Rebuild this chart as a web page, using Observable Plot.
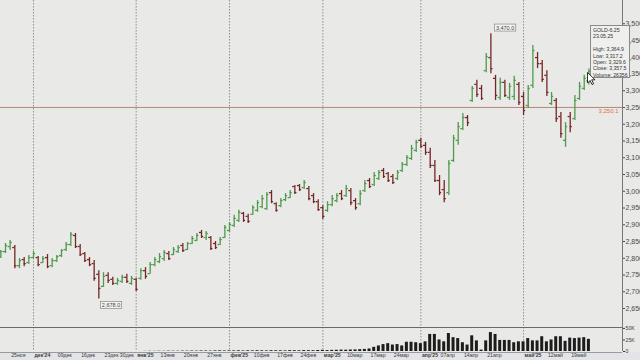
<!DOCTYPE html>
<html><head><meta charset="utf-8">
<script src="https://cdn.jsdelivr.net/npm/d3@7"></script>
<script src="https://cdn.jsdelivr.net/npm/@observablehq/plot@0.6"></script>
<style>
html,body{margin:0;padding:0;background:#e9e9e7;overflow:hidden;width:640px;height:360px;}
#wrap{position:relative;width:640px;height:360px;font-family:"Liberation Sans",Arial,sans-serif;overflow:hidden;}
#price,#vol{position:absolute;left:0;}
#price{top:0;}
#vol{top:327px;}
.sep{position:absolute;left:0;width:622px;height:1px;background:#6a6a6a;}
#strip{position:absolute;left:0;top:352px;width:640px;height:8px;background:#e2e4e8;}
#tip{position:absolute;left:590px;top:25px;width:40px;height:53px;background:#efefed;border:1px solid #8a8a8a;font-size:5.2px;line-height:6.4px;color:#333;padding:1px 2px;box-sizing:border-box;white-space:pre;overflow:hidden;}
#cursor{position:absolute;left:587px;top:72px;}
</style></head><body><div id="wrap">
<div id="strip"></div>
<div id="price"></div>
<div id="vol"></div>
<div class="sep" style="top:327px"></div>
<div class="sep" style="top:352px;background:#9a9a9a"></div>
<div id="tip"></div>
<svg id="cursor" width="10" height="14"><path d="M0.5,0.5 L0.5,11 L3,8.5 L5,12.5 L6.6,11.8 L4.7,7.8 L8,7.8 Z" fill="#fff" stroke="#000" stroke-width="0.8"/></svg>
</div>
<script>
const ticker = "GOLD-6.25";
const dates = [
"2024-11-21","2024-11-22","2024-11-25","2024-11-26","2024-11-27","2024-11-28","2024-11-29",
"2024-12-02","2024-12-03","2024-12-04","2024-12-05","2024-12-06",
"2024-12-09","2024-12-10","2024-12-11","2024-12-12","2024-12-13",
"2024-12-16","2024-12-17","2024-12-18","2024-12-19","2024-12-20",
"2024-12-23","2024-12-24","2024-12-25","2024-12-26","2024-12-27","2024-12-30","2024-12-31",
"2025-01-03","2025-01-06","2025-01-08","2025-01-09","2025-01-10",
"2025-01-13","2025-01-14","2025-01-15","2025-01-16","2025-01-17",
"2025-01-20","2025-01-21","2025-01-22","2025-01-23","2025-01-24",
"2025-01-27","2025-01-28","2025-01-29","2025-01-30","2025-01-31",
"2025-02-03","2025-02-04","2025-02-05","2025-02-06","2025-02-07",
"2025-02-10","2025-02-11","2025-02-12","2025-02-13","2025-02-14",
"2025-02-17","2025-02-18","2025-02-19","2025-02-20","2025-02-21",
"2025-02-24","2025-02-25","2025-02-26","2025-02-27","2025-02-28",
"2025-03-03","2025-03-04","2025-03-05","2025-03-06","2025-03-07",
"2025-03-10","2025-03-11","2025-03-12","2025-03-13","2025-03-14",
"2025-03-17","2025-03-18","2025-03-19","2025-03-20","2025-03-21",
"2025-03-24","2025-03-25","2025-03-26","2025-03-27","2025-03-28","2025-03-31",
"2025-04-01","2025-04-02","2025-04-03","2025-04-04",
"2025-04-07","2025-04-08","2025-04-09","2025-04-10","2025-04-11",
"2025-04-14","2025-04-15","2025-04-16","2025-04-17","2025-04-18",
"2025-04-21","2025-04-22","2025-04-23","2025-04-24","2025-04-25",
"2025-04-28","2025-04-29","2025-04-30",
"2025-05-02","2025-05-05","2025-05-06","2025-05-07","2025-05-08",
"2025-05-12","2025-05-13","2025-05-14","2025-05-15","2025-05-16",
"2025-05-19","2025-05-20","2025-05-21","2025-05-22","2025-05-23"];

const open = [2805,2820,2835,2832,2778,2796,2787,2802,2802,2787,
2802,2778,2793,2808,2826,2841,2868,2835,2814,2796,
2784,2752,2716,2749,2737,2725,2731,2743,2725,2737,
2740,2763,2754,2781,2790,2799,2814,2811,2820,2838,
2826,2844,2853,2877,2862,2862,2844,2841,2862,2883,
2898,2913,2934,2925,2931,2943,2954,2948,2996,2963,
2957,2975,2981,3014,3017,3011,3008,2987,2969,2951,
2943,2960,2972,2993,2987,3002,2972,2963,3002,3032,
3020,3038,3062,3053,3044,3038,3062,3080,3098,3122,
3152,3137,3116,3077,3032,3005,2996,3092,3152,3187,
3220,3271,3319,3307,3360,3399,3337,3280,3325,3280,
3283,3319,3283,3256,3316,3399,3381,3346,3262,3271,
3223,3152,3223,3217,3277,3307,3329.6];

const high = [2823,2844,2853,2838,2799,2802,2808,2820,2805,2805,
2811,2799,2808,2826,2847,2877,2874,2841,2817,2802,
2793,2763,2757,2757,2743,2740,2749,2752,2746,2740,
2769,2772,2787,2802,2814,2823,2820,2832,2838,2844,
2847,2865,2874,2883,2880,2865,2850,2862,2898,2907,
2928,2943,2937,2931,2957,2972,2987,2996,3002,2966,
2978,2993,3002,3017,3020,3032,3014,2993,2975,2957,
2969,2987,2993,3002,3017,3008,2978,3002,3032,3038,
3056,3062,3068,3056,3050,3062,3086,3107,3137,3152,
3158,3146,3128,3092,3047,3032,3092,3167,3205,3232,
3226,3313,3331,3316,3411,3470,3346,3337,3331,3322,
3343,3325,3295,3316,3435,3414,3390,3360,3295,3277,
3235,3205,3235,3286,3325,3346,3364.9];

const low = [2799,2814,2823,2769,2769,2775,2781,2799,2775,2784,
2769,2772,2787,2802,2820,2835,2829,2805,2787,2775,
2731,2678,2713,2725,2719,2719,2725,2725,2719,2701,
2734,2737,2752,2775,2784,2790,2793,2808,2814,2817,
2823,2841,2850,2859,2853,2823,2826,2838,2859,2877,
2892,2907,2907,2904,2928,2937,2948,2943,2963,2937,
2951,2969,2978,2990,2999,3005,2972,2963,2940,2916,
2937,2954,2966,2972,2981,2957,2943,2957,2996,3008,
3014,3032,3038,3026,3020,3032,3056,3074,3092,3116,
3128,3107,3068,3026,2987,2966,2987,3086,3137,3181,
3193,3265,3280,3271,3354,3351,3271,3271,3280,3271,
3271,3256,3226,3247,3307,3366,3325,3283,3256,3205,
3158,3131,3175,3211,3271,3301,3317.2];

const close = [2820,2838,2847,2778,2793,2784,2802,2814,2781,2799,
2775,2793,2805,2823,2841,2871,2835,2811,2793,2781,
2740,2710,2746,2734,2725,2734,2743,2731,2740,2707,
2763,2746,2781,2796,2805,2817,2799,2826,2832,2823,
2844,2859,2868,2865,2874,2829,2832,2856,2892,2901,
2919,2937,2913,2910,2951,2966,2978,2990,2969,2943,
2972,2987,2996,2996,3005,3026,2978,2969,2945,2925,
2960,2978,2987,2978,3008,2966,2951,2993,3023,3014,
3047,3056,3044,3032,3026,3056,3080,3101,3128,3146,
3134,3116,3077,3032,2996,2978,3083,3158,3193,3220,
3205,3307,3289,3277,3402,3366,3286,3325,3286,3313,
3331,3265,3241,3307,3420,3381,3334,3295,3283,3217,
3172,3193,3193,3271,3313,3337,3357.5];

const volume = [0,0,0,0,0,0,0,0,0,0,
0,0,0,0,0,0,0,0,0,0,
0,0,0,0,0,0,0,0,0,0,
0,300,500,400,600,500,800,700,600,900,
800,1000,900,1200,1100,900,1300,1500,1200,1400,
1300,1600,1200,1500,1400,1700,1500,1300,1800,1600,
1500,1400,1900,1700,1600,2000,1800,1700,2200,2500,
2000,2400,2600,3000,2800,3200,3500,4000,4500,5500,
9000,12000,15000,17000,14000,15000,12000,20000,20000,19000,
17000,21000,37000,37000,25000,21000,39000,30000,28000,19000,
14000,34000,23000,3000,23000,41000,37000,24000,24000,24000,
19000,21000,21000,28000,23000,23000,32000,21000,25000,32000,
32000,22000,29000,28000,29000,30000,26356];

const levelValue = 3250.1;
const yTicks = [2650,2700,2750,2800,2850,2900,2950,3000,3050,3100,3150,3200,3250,3300,3350,3400,3450,3500];
const volTicks = [0,25000,50000];
const monthStarts = ["2024-12-02","2025-01-03","2025-02-03","2025-03-03","2025-04-01","2025-05-02"];
const xTickDates = ["2024-11-25","2024-12-02","2024-12-09","2024-12-16","2024-12-23","2024-12-30",
"2025-01-03","2025-01-13","2025-01-20","2025-01-27","2025-02-03","2025-02-10","2025-02-17","2025-02-24",
"2025-03-03","2025-03-10","2025-03-17","2025-03-24","2025-04-01","2025-04-07","2025-04-14","2025-04-21",
"2025-05-02","2025-05-12","2025-05-19"];
const xTickLabels = ["25ноя","дек'24","09дек","16дек","23дек","30дек",
"янв'25","13янв","20янв","27янв","фев'25","10фев","17фев","24фев",
"мар'25","10мар","17мар","24мар","апр'25","07апр","14апр","21апр",
"май'25","12май","19май"];

const data = dates.map((d, i) => ({i, date: d, open: open[i], high: high[i], low: low[i], close: close[i], volume: volume[i]}));
const xDomain = [-0.07, 133.2];
const up = "#4f9a4c", down = "#752727";
const col = d => d.close >= d.open ? up : down;
const monthIdx = monthStarts.map(d => dates.indexOf(d));
const tickIdx = xTickDates.map(d => dates.indexOf(d));
const labelOf = new Map(tickIdx.map((t, k) => [t, xTickLabels[k]]));
const f1 = d3.format(",.1f");
const maxBar = data.reduce((a, b) => b.high > a.high ? b : a);
const minBar = data.reduce((a, b) => b.low < a.low ? b : a);
const font = "Liberation Sans, Arial, sans-serif";

const price = Plot.plot({
  width: 640, height: 327, marginLeft: 0, marginRight: 18, marginTop: 0, marginBottom: 0,
  style: {background: "transparent", fontSize: "7px", fontFamily: font, color: "#4a4a4a", overflow: "visible"},
  x: {domain: xDomain, axis: null},
  y: {domain: [2593.3, 3569.4], axis: "right", ticks: yTicks, tickFormat: d3.format(",.0f"), tickSize: 2, tickPadding: 1, label: null},
  marks: [
    Plot.ruleX(monthIdx, {stroke: "#7a7a7a", strokeDasharray: "1.5,1.5", strokeWidth: 0.8}),
    Plot.ruleY([levelValue], {stroke: "#b7897a", strokeWidth: 1}),
    Plot.ruleX([xDomain[1]], {stroke: "#777"}),
    Plot.ruleX(data, {x: "i", y1: "low", y2: "high", stroke: col, strokeWidth: 1.3}),
    Plot.ruleY(data, {y: "open", x1: d => d.i - 0.45, x2: "i", stroke: col, strokeWidth: 1.3}),
    Plot.ruleY(data, {y: "close", x1: "i", x2: d => d.i + 0.45, stroke: col, strokeWidth: 1.3}),
    Plot.text([levelValue], {y: d => d, text: d => f1(d), frameAnchor: "right", textAnchor: "end", dx: -4, dy: 3.5, fill: "#e07040", fontSize: 6}),
    Plot.text([maxBar], {x: "i", y: "high", text: d => f1(d.high), textAnchor: "start", dx: 5, dy: -6, fill: "#444", fontSize: 5.5}),
    Plot.text([minBar], {x: "i", y: "low", text: d => f1(d.low), textAnchor: "start", dx: 3, dy: 6, fill: "#444", fontSize: 5.5})
  ]
});
document.getElementById("price").appendChild(price);

const vol = Plot.plot({
  width: 640, height: 33, marginLeft: 0, marginRight: 18, marginTop: 0, marginBottom: 9,
  style: {background: "transparent", fontSize: "5.2px", fontFamily: font, color: "#3a3a3a", overflow: "visible"},
  x: {domain: xDomain, ticks: tickIdx, tickFormat: i => labelOf.get(i), tickSize: 0, tickPadding: 1.5, label: null},
  y: {domain: [0, 52000], axis: "right", ticks: volTicks, tickFormat: v => v === 0 ? "0" : (v / 1000) + "K", tickSize: 2, tickPadding: 1, label: null},
  marks: [
    Plot.ruleX(monthIdx, {stroke: "#7a7a7a", strokeDasharray: "1.5,1.5", strokeWidth: 0.8}),
    Plot.ruleX([xDomain[1]], {stroke: "#777"}),
    Plot.rectY(data, {x1: d => d.i - 0.32, x2: d => d.i + 0.32, y: "volume", fill: "#1c1c1c"})
  ]
});
document.getElementById("vol").appendChild(vol);

// label boxes behind the extreme-price labels
const boxTexts = new Set([f1(maxBar.high), f1(minBar.low)]);
price.querySelectorAll("text").forEach(t => {
  if (!boxTexts.has(t.textContent)) return;
  const b = t.getBBox();
  const r = document.createElementNS("http://www.w3.org/2000/svg", "rect");
  r.setAttribute("x", b.x - 1.5); r.setAttribute("y", b.y - 0.5);
  r.setAttribute("width", b.width + 3); r.setAttribute("height", b.height + 1);
  r.setAttribute("fill", "#f3f3f1"); r.setAttribute("stroke", "#8a8a8a"); r.setAttribute("stroke-width", "0.7");
  if (t.getAttribute("transform")) r.setAttribute("transform", t.getAttribute("transform"));
  t.parentNode.insertBefore(r, t);
});
// x tick labels: left aligned from their tick; month labels bold; a label crowded by the next tick is centred
const labelPos = new Map(xTickLabels.map((l, k) => [l, k]));
vol.querySelectorAll("text").forEach(t => {
  const k = labelPos.get(t.textContent);
  if (k === undefined) return;
  const crowded = k + 1 < tickIdx.length && tickIdx[k + 1] - tickIdx[k] < 3;
  t.setAttribute("text-anchor", crowded ? "middle" : "start");
  if (!crowded) t.setAttribute("dx", "1");
  if (t.textContent.includes("'")) t.setAttribute("font-weight", "bold");
});

// tooltip for last bar
const last = data[data.length - 1];
const dd = last.date.split("-");
document.getElementById("tip").textContent =
  ticker + "\n" + dd[2] + "." + dd[1] + "." + dd[0].slice(2) + "\n\n" +
  "High: " + f1(last.high) + "\n" + "Low: " + f1(last.low) + "\n" +
  "Open: " + f1(last.open) + "\n" + "Close: " + f1(last.close) + "\n" +
  "Volume: " + last.volume;
</script>
</body></html>
